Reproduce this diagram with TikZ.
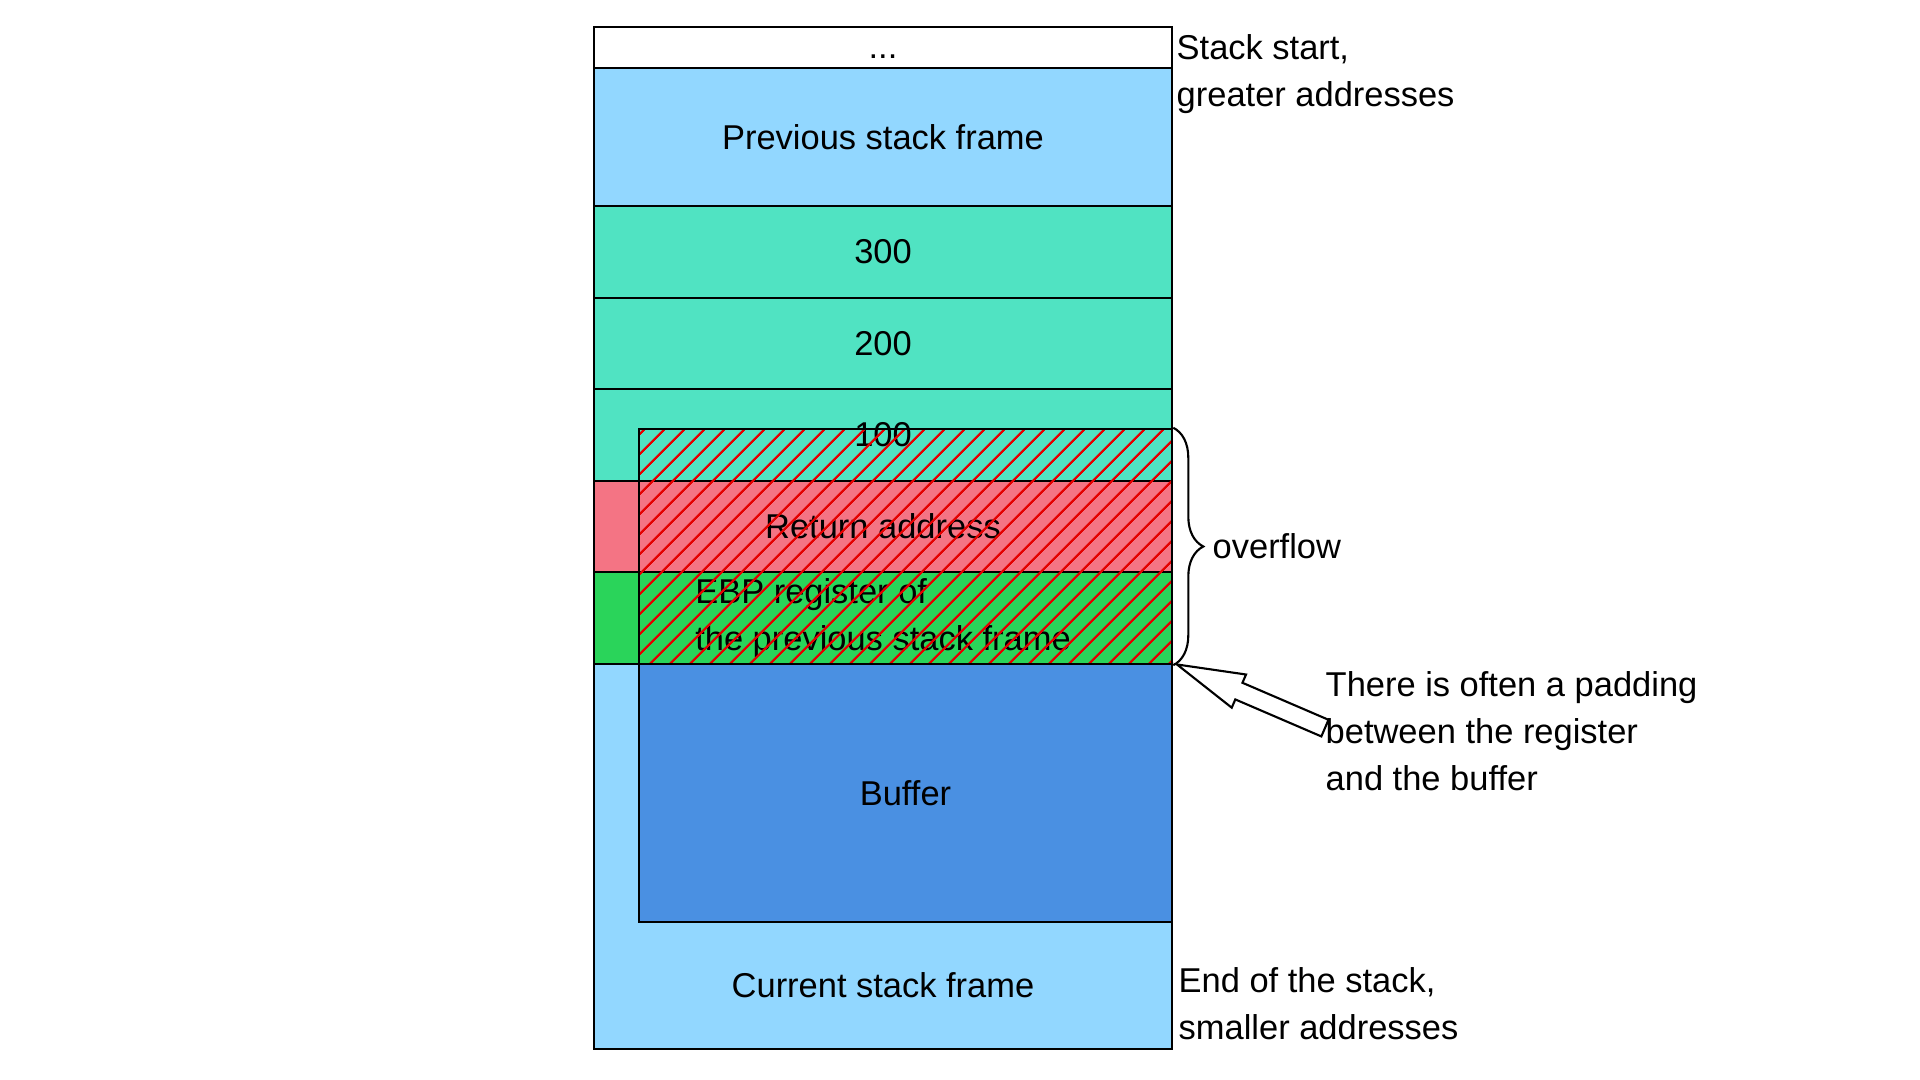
\documentclass[tikz,border=0pt]{standalone}
\usepackage{fontspec}
\setmainfont{Liberation Sans}
\usepackage[dvipsnames]{xcolor}
\usetikzlibrary{positioning, patterns.meta, decorations.pathreplacing, shapes.arrows}
\definecolor{frameblue}{RGB}{146,215,255}
\definecolor{argteal}{RGB}{80,227,194}
\definecolor{retpink}{RGB}{244,116,132}
\definecolor{ebpgreen}{RGB}{42,212,90}
\definecolor{bufblue}{RGB}{74,144,226}

\begin{document}
\begin{tikzpicture}[x=0.01cm, y=-0.01cm]
  % 定义样式
  \tikzset{every node/.style = {font=\fontsize{9.8pt}{13.4pt}\selectfont}}
  \tikzset{cell/.style = {draw, line width=0.6pt, minimum width=5.78cm, inner sep=0pt}}
  \tikzset{hatch/.style = {cell, pattern={Lines[angle=45, distance=0.14cm, line width=0.65pt]}, pattern color=red!90!black}}
  \tikzset{note/.style = {align=left, inner sep=0pt, anchor=west}}
  \tikzset{brace/.style = {draw, line width=0.6pt, decorate, decoration={brace, amplitude=0.3cm}}}
  \tikzset{bigarrow/.style = {single arrow, draw, fill=white, line width=0.6pt, inner sep=0.08cm,
      minimum height=1.61cm, minimum width=0.34cm, single arrow head extend=0.09cm, single arrow tip angle=30}}

  \useasboundingbox (0,0) rectangle (1920,1080);

  % 栈
  \node[cell, fill=white, minimum height=0.41cm, text height=0.22cm, text depth=0cm] (top) at (883,47.5) {...};
  \node[cell, fill=frameblue, minimum height=1.38cm] (prev) at (883,137) {Previous stack frame};
  \node[cell, fill=argteal, minimum height=0.92cm] (a300) at (883,252) {300};
  \node[cell, fill=argteal, minimum height=0.91cm] (a200) at (883,343.5) {200};
  \node[cell, fill=argteal, minimum height=0.92cm] (a100) at (883,435) {100};
  \node[cell, fill=retpink, minimum height=0.91cm] (ret) at (883,526.5) {Return address};
  \node[cell, fill=ebpgreen, minimum height=0.92cm, align=left] (ebp) at (883,618) {EBP register of\\the previous stack frame};
  \node[cell, fill=frameblue, minimum height=3.85cm] (cur) at (883,856.5) {};
  \node (curtxt) at (883,985) {Current stack frame};

  % 溢出和缓冲区
  \node[hatch, minimum width=5.33cm, minimum height=2.35cm] (ovf) at (905.5,546.5) {};
  \node[cell, fill=bufblue, minimum width=5.33cm, minimum height=2.58cm] (buf) at (905.5,793) {Buffer};

  % 说明
  \draw[brace] (ovf.north east) -- (ovf.south east);
  \node[note] (ovftxt) at (1212,546) {overflow};
  \node[note] (start) at (1176,74) {Stack start,\\greater addresses};
  \node[note] (end) at (1178,1003.5) {End of the stack,\\smaller addresses};
  \node[note] (padtxt) at (1325,731) {There is often a padding\\between the register\\and the buffer};

  \coordinate (pad) at (1320,726);
  \path (pad) -- (buf.north east) node[bigarrow, pos=1, anchor=tip, sloped, allow upside down] (arr) {};
\end{tikzpicture}
\end{document}
